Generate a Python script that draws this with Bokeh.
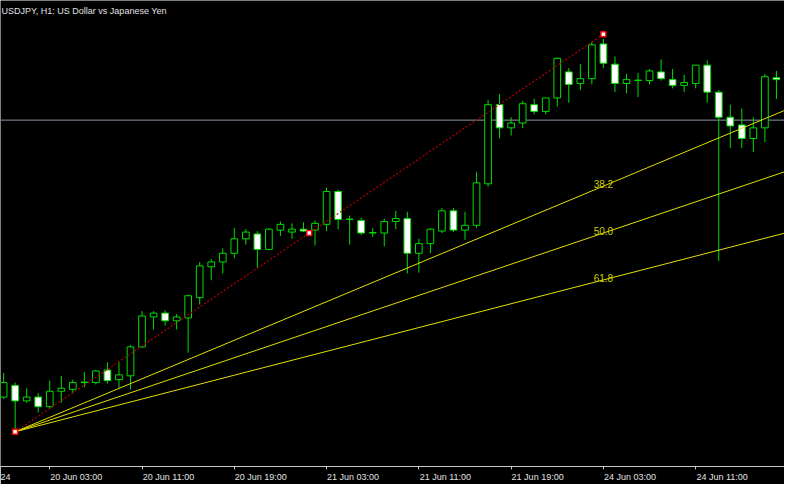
from bokeh.plotting import figure
from bokeh.models import Range1d, FixedTicker, Label, Span, ColumnDataSource
from bokeh.core.properties import value
from bokeh.embed import file_html
from bokeh.resources import INLINE

# ---------------- data (USDJPY H1) ----------------
bar_index = list(range(-1, 68))   # 0 = 20 Jun 00:00
opens = [158.020, 158.080, 158.000, 158.020, 157.970, 158.050, 158.060, 158.095, 158.095, 158.160,
         158.110, 158.130, 158.280, 158.435, 158.455, 158.415, 158.430, 158.535, 158.695, 158.720,
         158.765, 158.840, 158.865, 158.785, 158.885, 158.875, 158.890, 158.885, 158.915, 159.085,
         158.940, 158.935, 158.870, 158.870, 158.930, 158.945, 158.765, 158.815, 158.880, 158.985,
         158.885, 158.910, 159.125, 159.535, 159.415, 159.440, 159.535, 159.500, 159.570, 159.705,
         159.645, 159.670, 159.850, 159.745, 159.645, 159.660, 159.660, 159.705, 159.665, 159.635,
         159.645, 159.740, 159.600, 159.470, 159.430, 159.360, 159.415, 159.675, 159.675]
highs = [158.145, 158.095, 158.065, 158.040, 158.105, 158.130, 158.110, 158.150, 158.160, 158.200,
         158.200, 158.290, 158.465, 158.465, 158.470, 158.450, 158.550, 158.720, 158.735, 158.790,
         158.895, 158.890, 158.880, 158.895, 158.930, 158.920, 158.925, 158.935, 159.105, 159.095,
         158.960, 158.950, 158.895, 158.945, 158.985, 158.980, 158.840, 158.895, 159.000, 159.000,
         158.980, 159.185, 159.560, 159.590, 159.470, 159.555, 159.565, 159.570, 159.780, 159.725,
         159.745, 159.860, 159.875, 159.785, 159.695, 159.700, 159.720, 159.770, 159.720, 159.690,
         159.740, 159.765, 159.610, 159.535, 159.515, 159.470, 159.695, 159.710, 159.695]
lows = [158.010, 157.840, 157.990, 157.940, 157.960, 157.990, 158.040, 158.070, 158.085, 158.090,
        158.065, 158.060, 158.275, 158.370, 158.390, 158.370, 158.250, 158.500, 158.625, 158.660,
        158.740, 158.810, 158.690, 158.780, 158.855, 158.840, 158.875, 158.805, 158.880, 158.890,
        158.810, 158.860, 158.850, 158.800, 158.890, 158.660, 158.665, 158.765, 158.870, 158.875,
        158.835, 158.895, 159.110, 159.360, 159.375, 159.415, 159.485, 159.485, 159.525, 159.545,
        159.610, 159.640, 159.725, 159.600, 159.595, 159.575, 159.640, 159.660, 159.620, 159.600,
        159.620, 159.545, 158.725, 159.310, 159.310, 159.290, 159.340, 159.565, 159.655]
closes = [158.095, 158.000, 158.020, 157.970, 158.050, 158.065, 158.095, 158.095, 158.155, 158.105,
          158.135, 158.280, 158.440, 158.455, 158.415, 158.435, 158.545, 158.700, 158.720, 158.765,
          158.840, 158.875, 158.785, 158.890, 158.915, 158.890, 158.880, 158.920, 159.085, 158.940,
          158.940, 158.870, 158.870, 158.930, 158.945, 158.765, 158.815, 158.890, 158.985, 158.885,
          158.910, 159.130, 159.535, 159.415, 159.440, 159.540, 159.500, 159.570, 159.775, 159.640,
          159.670, 159.845, 159.750, 159.645, 159.665, 159.660, 159.710, 159.670, 159.635, 159.650,
          159.740, 159.600, 159.470, 159.425, 159.360, 159.415, 159.680, 159.665, 159.675]

tick_bars = [-5, 3, 11, 19, 27, 35, 43, 51, 59]
tick_labels = ["19 Jun 2024", "20 Jun 03:00", "20 Jun 11:00", "20 Jun 19:00", "21 Jun 03:00",
               "21 Jun 11:00", "21 Jun 19:00", "24 Jun 03:00", "24 Jun 11:00"]

fan_start_bar, fan_start_price = 0, 157.840
fan_end_bar, fan_end_price = 51, 159.900
fan_levels = [38.2, 50.0, 61.8]
hline_price = 159.455
chart_title = "USDJPY, H1:  US Dollar vs Japanese Yen"

# ---------------- layout / style ----------------
W, H = 784, 484
AX_H = 17
x_lo, x_hi = -1.27, 66.7
y_lo, y_hi = 157.660, 160.075
GREEN = "#00dd00"
YELLOW = "#e0e000"
AXIS_C = "#c8c8c8"
FONT = "Liberation Sans"
px_per_bar = W / (x_hi - x_lo)

p = figure(width=W, height=H, output_backend="svg", toolbar_location=None,
           x_range=Range1d(x_lo, x_hi), y_range=Range1d(y_lo, y_hi),
           y_axis_location=None, min_border=0, min_border_bottom=AX_H,
           background_fill_color="black", border_fill_color="black",
           outline_line_color=None)
p.grid.visible = False

# time axis: tick marks at the bar, label text starting just right of the mark
label_pos, overrides = [], {}
for b, t in zip(tick_bars, tick_labels):
    if b >= x_lo:
        pos = round(b + 26.5 / px_per_bar, 4)
        txt = t
    else:  # label mostly scrolled off the left edge: only its tail shows
        pos = round(x_lo + 3.5 / px_per_bar, 4)
        txt = t[-2:]
    label_pos.append(pos)
    overrides[pos] = txt

ax = p.xaxis[0]
ax.ticker = FixedTicker(ticks=label_pos, minor_ticks=[b for b in tick_bars if b >= x_lo])
ax.major_label_overrides = overrides
ax.major_label_text_font = FONT
ax.major_label_text_font_size = "9px"
ax.major_label_text_color = "#e0e0e0"
ax.major_label_standoff = 2
ax.axis_line_color = AXIS_C
ax.major_tick_line_color = None
ax.major_tick_out = 3
ax.major_tick_in = 0
ax.minor_tick_line_color = AXIS_C
ax.minor_tick_out = 3
ax.minor_tick_in = 0

# horizontal line (behind candles)
p.add_layout(Span(location=hline_price, dimension="width", line_color="#8a96a6",
                  line_width=1, level="underlay"))

# candles
tops, bottoms, fills = [], [], []
for o, c in zip(opens, closes):
    t, b = max(o, c), min(o, c)
    if t - b < 1e-9:
        t += 0.0025
    tops.append(t)
    bottoms.append(b)
    fills.append("white" if c < o else "black")
src = ColumnDataSource(dict(x=bar_index, h=highs, l=lows, top=tops, bottom=bottoms, fill=fills))
p.segment(x0="x", y0="h", x1="x", y1="l", line_color=GREEN, line_width=1, source=src)
p.vbar(x="x", width=0.58, top="top", bottom="bottom", fill_color="fill",
       line_color=GREEN, line_width=1, source=src)

# Fibonacci fan
x1, y1, x2, y2 = fan_start_bar, fan_start_price, fan_end_bar, fan_end_price
x_end = x_hi + 3
for lev in fan_levels:
    yl = y2 - lev / 100.0 * (y2 - y1)
    slope = (yl - y1) / (x2 - x1)
    p.line([x1, x_end], [y1, y1 + slope * (x_end - x1)], line_color=YELLOW, line_width=1)
    p.text(x=[x2], y=[yl], text=["%.1f" % lev], text_font=value(FONT), text_font_size="10px",
           text_color="#cccc00", text_align="center", text_baseline="alphabetic", y_offset=-2)

p.line([x1, x2], [y1, y2], line_color="#b40000", line_dash="2 2", line_width=1.2)
p.scatter([x1, (x1 + x2) / 2.0, x2], [y1, (y1 + y2) / 2.0, y2], marker="square", size=5,
          fill_color="white", line_color="#ff0000", line_width=1.5)

# title
p.add_layout(Label(x=x_lo, y=y_hi, x_units="data", y_units="data", x_offset=1, y_offset=-5,
                   text=chart_title, text_font=FONT, text_font_size="9px", text_color="#e0e0e0",
                   text_align="left", text_baseline="top"))

open("out.html", "w").write(file_html(p, INLINE))
